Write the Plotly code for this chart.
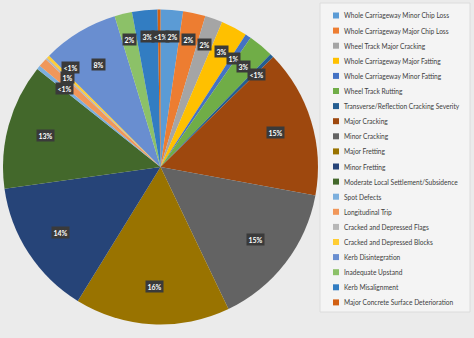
import math
import plotly.graph_objects as go

categories = [
    "Whole Carriageway Minor Chip Loss",
    "Whole Carriageway Major Chip Loss",
    "Wheel Track Major Cracking",
    "Whole Carriageway Major Fatting",
    "Whole Carriageway Minor Fatting",
    "Wheel Track Rutting",
    "Transverse/Reflection Cracking Severity",
    "Major Cracking",
    "Minor Cracking",
    "Major Fretting",
    "Minor Fretting",
    "Moderate Local Settlement/Subsidence",
    "Spot Defects",
    "Longitudinal Trip",
    "Cracked and Depressed Flags",
    "Cracked and Depressed Blocks",
    "Kerb Disintegration",
    "Inadequate Upstand",
    "Kerb Misalignment",
    "Major Concrete Surface Deterioration",
]
values = [2.3, 2.3, 1.8, 2.7, 0.6, 2.6, 0.4, 15.2, 15.0, 15.9, 14.0, 12.9,
          0.4, 0.9, 0.2, 0.3, 7.8, 1.8, 2.6, 0.3]
labels = ["2%", "2%", "2%", "3%", "1%", "3%", "<1%", "15%", "15%", "16%", "14%", "13%",
          "<1%", "1%", "<1%", "", "8%", "2%", "3%", "<1%"]
colors = ["#5B9BD5", "#ED7D31", "#A5A5A5", "#FFC000", "#4472C4", "#70AD47", "#255E91",
          "#9E480E", "#636363", "#997300", "#264478", "#43682B", "#7CAFDD", "#F1975A",
          "#B7B7B7", "#FFCD33", "#698ED0", "#8CC168", "#327DC2", "#D26012"]

W, H = 474, 338
cx, cy, R = 160.5, 167.0, 157.5

fig = go.Figure(go.Pie(
    labels=categories, values=values, sort=False, direction="clockwise", rotation=0,
    marker=dict(colors=colors, line=dict(width=0)),
    textinfo="none", hoverinfo="label+percent", showlegend=False,
    domain=dict(x=[(cx - R) / W, (cx + R) / W], y=[1 - (cy + R) / H, 1 - (cy - R) / H]),
))

# data labels at slice mid-angles; collisions resolved by sliding clockwise
total = sum(values)
mids = []
cum = 0.0
for v in values:
    mids.append((cum + v / 2) / total * 2 * math.pi)
    cum += v
n = len(values)
order = [(i + n - 2) % n for i in range(n)]
annotations = []
placed = []
for i in order:
    v, lab, mid = values[i], labels[i], mids[i]
    if not lab:
        continue
    f = 0.76 if v > 5 else (0.79 if v < 1 and math.sin(mid) < -0.5 else 0.83)
    px = cx + R * f * math.sin(mid)
    py = cy - R * f * math.cos(mid)
    w = 4.2 * len(lab) + 4
    h = 10
    c, s = math.cos(mid), math.sin(mid)
    if abs(c) > abs(s):
        tx, ty = (1 if c > 0 else -1), 0
    else:
        tx, ty = 0, (1 if s > 0 else -1)
    k = 0
    while k < 40 and any(abs(px - qx) < (w + qw) / 2 - 2 and abs(py - qy) < h
                         for qx, qy, qw in placed):
        px += tx
        py += ty
        k += 1
    placed.append((px, py, w))
    annotations.append(dict(
        x=px / W, y=1 - py / H, xref="paper", yref="paper", text="<b>" + lab + "</b>",
        showarrow=False, font=dict(family="Lato", size=7, color="white"),
        bgcolor="#3a3a3a", borderpad=1.5, xanchor="center", yanchor="middle",
    ))

# legend box drawn manually for tight Excel-like spacing
shapes = [dict(type="rect", xref="paper", yref="paper",
               x0=320 / W, x1=470 / W, y0=1 - 312 / H, y1=1 - 3 / H,
               fillcolor="#f4f4f4", line=dict(color="#dcdcdc", width=1), layer="below")]
y0, step = 15.5, 15.1
for i, (name, col) in enumerate(zip(categories, colors)):
    yy = y0 + i * step
    shapes.append(dict(type="rect", xref="paper", yref="paper",
                       x0=333 / W, x1=339 / W, y0=1 - (yy + 3) / H, y1=1 - (yy - 3) / H,
                       fillcolor=col, line=dict(width=0)))
    annotations.append(dict(
        x=342 / W, y=1 - yy / H, xref="paper", yref="paper", text=name,
        showarrow=False, xanchor="left", yanchor="middle",
        font=dict(family="Lato", size=6.6, color="#404040"),
    ))

fig.update_layout(
    width=W, height=H, margin=dict(l=0, r=0, t=0, b=0),
    paper_bgcolor="#ebebeb", plot_bgcolor="#ebebeb",
    annotations=annotations, shapes=shapes, showlegend=False,
)

fig.write_html("out.html")
